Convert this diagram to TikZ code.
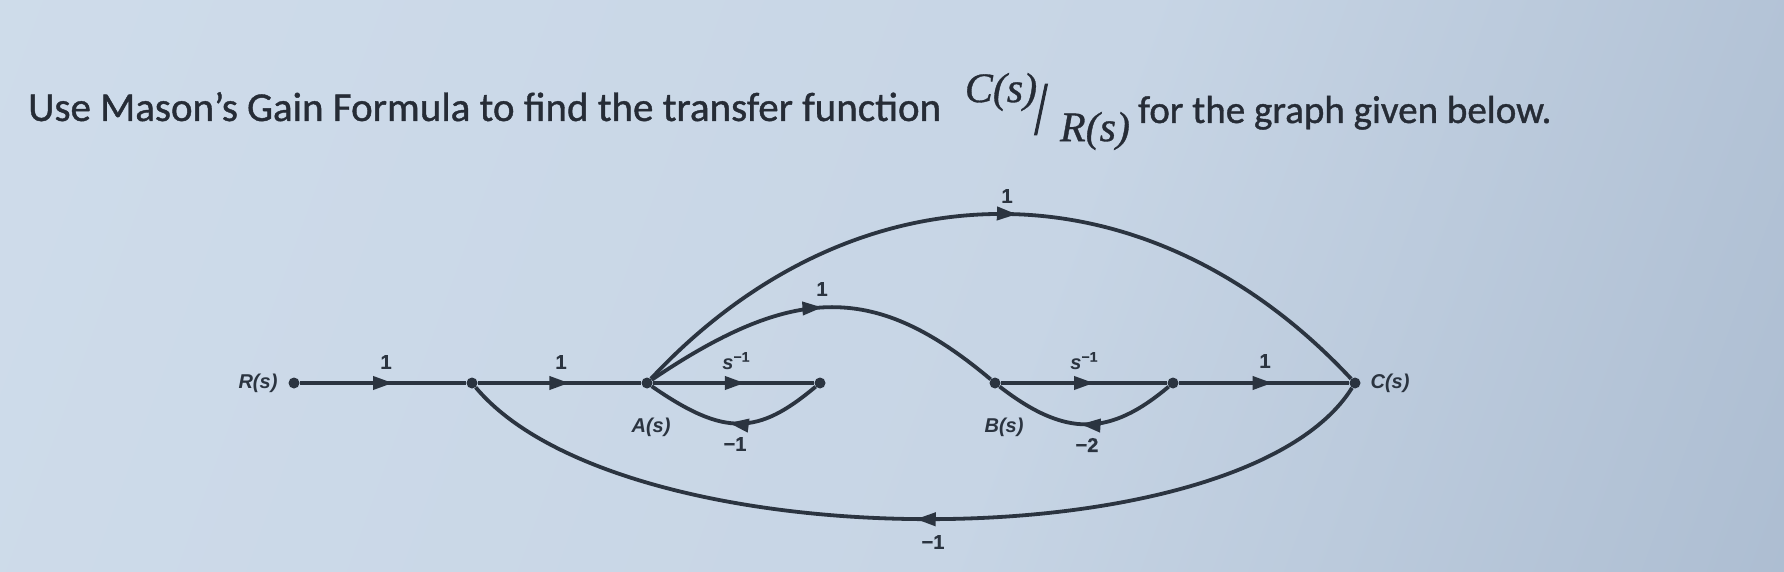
\documentclass[tikz,border=0pt]{standalone}
\usepackage{fontspec}
\setmainfont{Liberation Sans}[BoldFeatures={FakeBold=0.6}]
\newfontfamily\titlefont[FakeBold=1]{Carlito}
\newfontfamily\mathserif[FakeBold=0.8]{Liberation Serif}
\newfontfamily\slashfont[FakeBold=2]{Liberation Serif}
\usetikzlibrary{arrows.meta,decorations.markings}
\definecolor{ink}{RGB}{43,52,64}
\definecolor{titleink}{RGB}{38,44,54}
\definecolor{bgA}{RGB}{210,223,237}
\definecolor{bgB}{RGB}{199,213,229}
\definecolor{bgC}{RGB}{156,174,197}
\pgfdeclarehorizontalshading{bgshade}{100bp}{color(0bp)=(bgA); color(55bp)=(bgB); color(100bp)=(bgC)}
\tikzset{
  dot/.style={circle, fill=ink, inner sep=0pt, minimum size=11pt},
  flow/.style={draw, color=ink, line width=3.8pt},
  midarrow/.style={postaction={decorate, decoration={markings,
      mark=at position #1 with {\arrow{Triangle[length=20pt,width=13pt]}}}}},
  gain/.style={text=ink, font=\fontsize{20}{24}\selectfont\bfseries, inner sep=0pt},
  sig/.style={text=ink, font=\fontsize{20}{24}\selectfont\bfseries\itshape, inner sep=0pt},
  titletext/.style={text=titleink, inner sep=0pt, anchor=base west},
  fractext/.style={text=titleink, inner sep=0pt, font=\mathserif\itshape\fontsize{42}{48}\selectfont},
}
\begin{document}
\begin{tikzpicture}[x=1pt,y=-1pt]
\useasboundingbox (0,0) rectangle (1784,572);
\shade[shading=bgshade, shading angle=-20] (0,0) rectangle (1784,572);

% title
\node[titletext, font=\titlefont\fontsize{41}{48}\selectfont] (t1) at (28,121)
  {Use Mason’s Gain Formula to find the transfer function};
\node[fractext] (num) at (1001,92) {C(s)};
\node[text=titleink, inner sep=0pt, anchor=base, font=\slashfont\fontsize{58}{58}\selectfont] (slash) at (1041,134) {\scalebox{0.8}[1.3]{/}};
\node[fractext] (den) at (1095,131) {R(s)};
\node[titletext, font=\titlefont\fontsize{39}{46}\selectfont] (t2) at (1138,123)
  {for the graph given below.};

% nodes
\node[dot] (R)  at (294,383) {};
\node[dot] (N1) at (472,383) {};
\node[dot] (A)  at (647,383) {};
\node[dot] (N2) at (820,383) {};
\node[dot] (B)  at (995,383) {};
\node[dot] (N3) at (1173,383) {};
\node[dot] (C)  at (1355,383) {};

% branches
\draw[flow, midarrow=0.56] (R) -- (N1);
\draw[flow, midarrow=0.56] (N1) -- (A);
\draw[flow, midarrow=0.57] (A) -- (N2);
\draw[flow, midarrow=0.56] (B) -- (N3);
\draw[flow, midarrow=0.55] (N3) -- (C);
\draw[flow, midarrow=0.53] (N2) .. controls (758,435) and (725,437) .. (A);
\draw[flow, midarrow=0.52] (N3) .. controls (1110,436) and (1066,438) .. (B);
\draw[flow, midarrow=0.5] (A) .. controls (795,283) and (876,283) .. (B);
\draw[flow, midarrow=0.52] (A) .. controls (856,159) and (1146,159) .. (C);
\draw[flow, midarrow=0.5] (C) .. controls (1243,563) and (623,563) .. (N1);

% labels
\node[sig] (lR) at (258,383) {R(s)};
\node[sig] (lA) at (651,427) {A(s)};
\node[sig] (lB) at (1004,427) {B(s)};
\node[sig] (lC) at (1390,383) {C(s)};
\node[gain] (g1) at (386,362) {1};
\node[gain] (g2) at (561,362) {1};
\node[gain] (g3) at (736,361) {\itshape s\raisebox{8pt}{\fontsize{14}{14}\selectfont\upshape −1}};
\node[gain] (g4) at (735,444) {−1};
\node[gain] (g5) at (822,289) {1};
\node[gain] (g6) at (1007,196) {1};
\node[gain] (g7) at (1084,361) {\itshape s\raisebox{8pt}{\fontsize{14}{14}\selectfont\upshape −1}};
\node[gain] (g8) at (1087,445) {−2};
\node[gain] (g9) at (1265,361) {1};
\node[gain] (g10) at (933,542) {−1};
\end{tikzpicture}
\end{document}
